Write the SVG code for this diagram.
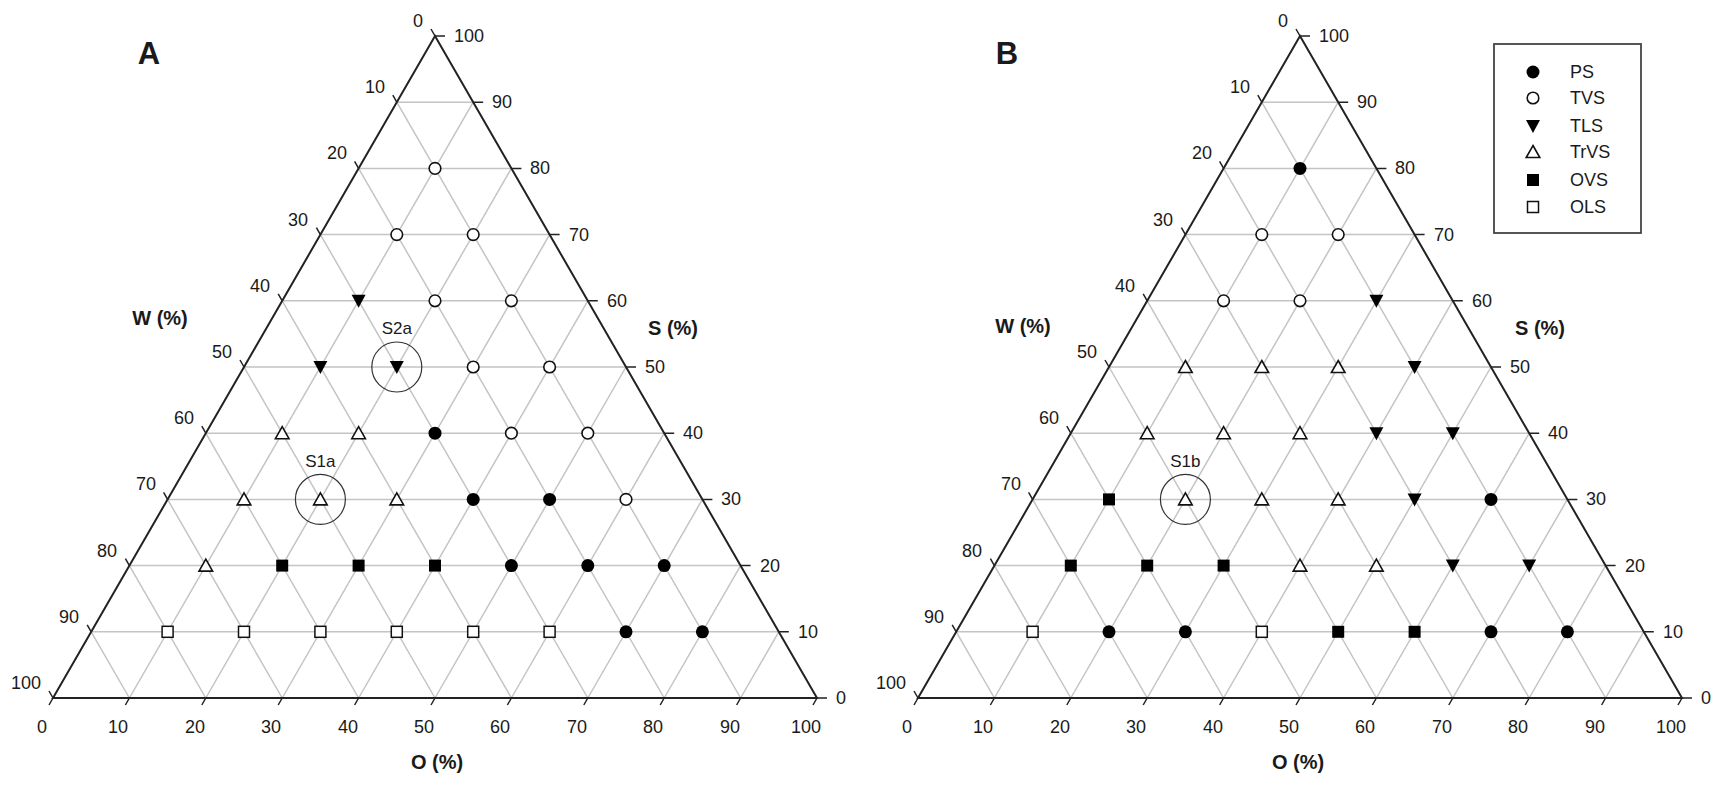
<svg xmlns="http://www.w3.org/2000/svg" xmlns:xlink="http://www.w3.org/1999/xlink" width="1724" height="795" viewBox="0 0 1724 795">
<style>
text{font-family:"Liberation Sans",Arial,sans-serif;fill:#1a1a1a}
.n{font-size:18px}
.t{font-size:20px;font-weight:bold}
.big{font-size:31px;font-weight:bold}
.g{stroke:#c4c4c4;stroke-width:1.5;fill:none}
.e{stroke:#222;stroke-width:2;fill:none}
.tk{stroke:#222;stroke-width:1.5;fill:none}
.hl{fill:none;stroke:#333;stroke-width:1.2}
.lab{font-size:17px}
</style>
<defs>
<circle id="fc" r="6.5" fill="#000"/>
<circle id="oc" r="5.8" fill="#fff" stroke="#111" stroke-width="1.6"/>
<polygon id="ft" points="-7,-6 7,-6 0,7" fill="#000"/>
<polygon id="ot" points="0,-6.5 6.8,5.5 -6.8,5.5" fill="#fff" stroke="#111" stroke-width="1.6"/>
<rect id="fs" x="-6" y="-6" width="12" height="12" fill="#000"/>
<rect id="os" x="-5.5" y="-5.5" width="11" height="11" fill="#fff" stroke="#111" stroke-width="1.5"/>
<g id="axes">
<path class="g" d="M38.2,631.8H725.8M76.4,565.6H687.6M114.6,499.4H649.4M152.8,433.2H611.2M191,367H573M229.2,300.8H534.8M267.4,234.6H496.6M305.6,168.4H458.4M343.8,102.2H420.2
M76.4,698L420.2,102.2M152.8,698L458.4,168.4M229.2,698L496.6,234.6M305.6,698L534.8,300.8M382,698L573,367M458.4,698L611.2,433.2M534.8,698L649.4,499.4M611.2,698L687.6,565.6M687.6,698L725.8,631.8
M76.4,698L38.2,631.8M152.8,698L76.4,565.6M229.2,698L114.6,499.4M305.6,698L152.8,433.2M382,698L191,367M458.4,698L229.2,300.8M534.8,698L267.4,234.6M611.2,698L305.6,168.4M687.6,698L343.8,102.2"/>
<path class="e" d="M0,698L382,36L764,698Z"/>
<path class="tk" d="M764,698h10M725.8,631.8h10M687.6,565.6h10M649.4,499.4h10M611.2,433.2h10M573,367h10M534.8,300.8h10M496.6,234.6h10M458.4,168.4h10M420.2,102.2h10M382,36h10
M382,36l-4,-7M343.8,102.2l-4,-7M305.6,168.4l-4,-7M267.4,234.6l-4,-7M229.2,300.8l-4,-7M191,367l-4,-7M152.8,433.2l-4,-7M114.6,499.4l-4,-7M76.4,565.6l-4,-7M38.2,631.8l-4,-7M0,698l-4,-7
M0,698l-4,7M76.4,698l-4,7M152.8,698l-4,7M229.2,698l-4,7M305.6,698l-4,7M382,698l-4,7M458.4,698l-4,7M534.8,698l-4,7M611.2,698l-4,7M687.6,698l-4,7M764,698l-4,7"/>
<g class="n">
<text x="783" y="704">0</text><text x="745" y="638">10</text><text x="707" y="572">20</text><text x="668" y="505">30</text><text x="630" y="439">40</text><text x="592" y="373">50</text><text x="554" y="307">60</text><text x="516" y="241">70</text><text x="477" y="174">80</text><text x="439" y="108">90</text><text x="401" y="42">100</text>
</g>
<g class="n" text-anchor="end">
<text x="370" y="27">0</text><text x="332" y="93">10</text><text x="294" y="159">20</text><text x="255" y="226">30</text><text x="217" y="292">40</text><text x="179" y="358">50</text><text x="141" y="424">60</text><text x="103" y="490">70</text><text x="64" y="557">80</text><text x="26" y="623">90</text><text x="-12" y="689">100</text>
</g>
<g class="n" text-anchor="middle">
<text x="-11" y="733">0</text><text x="65" y="733">10</text><text x="142" y="733">20</text><text x="218" y="733">30</text><text x="295" y="733">40</text><text x="371" y="733">50</text><text x="447" y="733">60</text><text x="524" y="733">70</text><text x="600" y="733">80</text><text x="677" y="733">90</text><text x="753" y="733">100</text>
</g>
</g>
</defs>
<g id="plot-a">
<use href="#axes" x="53"/>
<text class="big" x="149" y="64" text-anchor="middle">A</text>
<text class="t" x="160" y="325" text-anchor="middle">W (%)</text>
<text class="t" x="673" y="335" text-anchor="middle">S (%)</text>
<text class="t" x="437" y="769" text-anchor="middle">O (%)</text>
</g>
<g id="plot-b">
<use href="#axes" x="918"/>
<text class="big" x="1007" y="64" text-anchor="middle">B</text>
<text class="t" x="1023" y="333" text-anchor="middle">W (%)</text>
<text class="t" x="1540" y="335" text-anchor="middle">S (%)</text>
<text class="t" x="1298" y="769" text-anchor="middle">O (%)</text>
</g>
<g id="points-a">
<use href="#oc" x="435" y="168.4"/>
<use href="#oc" x="396.8" y="234.6"/><use href="#oc" x="473.2" y="234.6"/>
<use href="#ft" x="358.6" y="300.8"/><use href="#oc" x="435" y="300.8"/><use href="#oc" x="511.4" y="300.8"/>
<use href="#ft" x="320.4" y="367"/><use href="#ft" x="396.8" y="367"/><use href="#oc" x="473.2" y="367"/><use href="#oc" x="549.6" y="367"/>
<use href="#ot" x="282.2" y="433.2"/><use href="#ot" x="358.6" y="433.2"/><use href="#fc" x="435" y="433.2"/><use href="#oc" x="511.4" y="433.2"/><use href="#oc" x="587.8" y="433.2"/>
<use href="#ot" x="244" y="499.4"/><use href="#ot" x="320.4" y="499.4"/><use href="#ot" x="396.8" y="499.4"/><use href="#fc" x="473.2" y="499.4"/><use href="#fc" x="549.6" y="499.4"/><use href="#oc" x="626" y="499.4"/>
<use href="#ot" x="205.8" y="565.6"/><use href="#fs" x="282.2" y="565.6"/><use href="#fs" x="358.6" y="565.6"/><use href="#fs" x="435" y="565.6"/><use href="#fc" x="511.4" y="565.6"/><use href="#fc" x="587.8" y="565.6"/><use href="#fc" x="664.2" y="565.6"/>
<use href="#os" x="167.6" y="631.8"/><use href="#os" x="244" y="631.8"/><use href="#os" x="320.4" y="631.8"/><use href="#os" x="396.8" y="631.8"/><use href="#os" x="473.2" y="631.8"/><use href="#os" x="549.6" y="631.8"/><use href="#fc" x="626" y="631.8"/><use href="#fc" x="702.4" y="631.8"/>
</g>
<g id="highlight-s2a"><circle class="hl" cx="396.8" cy="367" r="25"/><text class="lab" x="396.8" y="334" text-anchor="middle">S2a</text></g>
<g id="highlight-s1a"><circle class="hl" cx="320.4" cy="499.4" r="25"/><text class="lab" x="320.4" y="467" text-anchor="middle">S1a</text></g>
<g id="points-b">
<use href="#fc" x="1300" y="168.4"/>
<use href="#oc" x="1261.8" y="234.6"/><use href="#oc" x="1338.2" y="234.6"/>
<use href="#oc" x="1223.6" y="300.8"/><use href="#oc" x="1300" y="300.8"/><use href="#ft" x="1376.4" y="300.8"/>
<use href="#ot" x="1185.4" y="367"/><use href="#ot" x="1261.8" y="367"/><use href="#ot" x="1338.2" y="367"/><use href="#ft" x="1414.6" y="367"/>
<use href="#ot" x="1147.2" y="433.2"/><use href="#ot" x="1223.6" y="433.2"/><use href="#ot" x="1300" y="433.2"/><use href="#ft" x="1376.4" y="433.2"/><use href="#ft" x="1452.8" y="433.2"/>
<use href="#fs" x="1109" y="499.4"/><use href="#ot" x="1185.4" y="499.4"/><use href="#ot" x="1261.8" y="499.4"/><use href="#ot" x="1338.2" y="499.4"/><use href="#ft" x="1414.6" y="499.4"/><use href="#fc" x="1491" y="499.4"/>
<use href="#fs" x="1070.8" y="565.6"/><use href="#fs" x="1147.2" y="565.6"/><use href="#fs" x="1223.6" y="565.6"/><use href="#ot" x="1300" y="565.6"/><use href="#ot" x="1376.4" y="565.6"/><use href="#ft" x="1452.8" y="565.6"/><use href="#ft" x="1529.2" y="565.6"/>
<use href="#os" x="1032.6" y="631.8"/><use href="#fc" x="1109" y="631.8"/><use href="#fc" x="1185.4" y="631.8"/><use href="#os" x="1261.8" y="631.8"/><use href="#fs" x="1338.2" y="631.8"/><use href="#fs" x="1414.6" y="631.8"/><use href="#fc" x="1491" y="631.8"/><use href="#fc" x="1567.4" y="631.8"/>
</g>
<g id="highlight-s1b"><circle class="hl" cx="1185.4" cy="499.4" r="25"/><text class="lab" x="1185.4" y="467" text-anchor="middle">S1b</text></g>
<g id="legend">
<rect x="1494" y="44" width="147" height="189" fill="#fff" stroke="#444" stroke-width="1.8"/>
<use href="#fc" x="1533" y="72"/><text class="n" x="1570" y="78">PS</text>
<use href="#oc" x="1533" y="98"/><text class="n" x="1570" y="104">TVS</text>
<use href="#ft" x="1533" y="126"/><text class="n" x="1570" y="132">TLS</text>
<use href="#ot" x="1533" y="152"/><text class="n" x="1570" y="158">TrVS</text>
<use href="#fs" x="1533" y="180"/><text class="n" x="1570" y="186">OVS</text>
<use href="#os" x="1533" y="207"/><text class="n" x="1570" y="213">OLS</text>
</g>
<g id="connectors"/>
</svg>
